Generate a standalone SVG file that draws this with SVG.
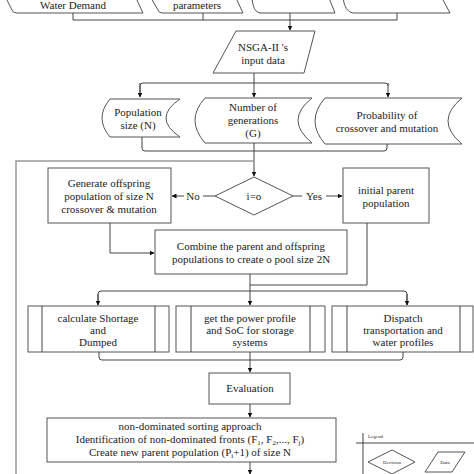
<svg xmlns="http://www.w3.org/2000/svg" width="474" height="474" viewBox="0 0 474 474">
<defs>
<marker id="ah" viewBox="0 0 10 10" refX="9" refY="5" markerWidth="5" markerHeight="5" orient="auto" markerUnits="userSpaceOnUse">
<path d="M0,0 L10,5 L0,10 Z" fill="#111"/>
</marker>
<style>
.s{fill:#fff;stroke:#555;stroke-width:1}
.c{fill:none;stroke:#444;stroke-width:1}
.t{font-family:"Liberation Serif","DejaVu Serif",serif;font-size:11px;fill:#222;text-anchor:middle}
.lg{font-family:"Liberation Serif",serif;font-size:5px;fill:#222}
</style>
</defs>
<rect width="474" height="474" fill="#fff"/>

<g id="top1"><path class="s" d="M6,-2 L12,10 Q13,13 17,13 L143,13 L136,-2"/><text class="t" x="73" y="9" font-size="10">Water Demand</text></g>
<g id="top2"><path class="s" d="M151,-2 L158,10 Q159,13 162,13 L243,13 L236,-2"/><text class="t" x="197" y="9" font-size="10">parameters</text></g>
<g id="top3"><path class="s" d="M252,-2 Q253,12 260,13 L335,13 L329,-2"/></g>
<g id="top4"><path class="s" d="M343,-2 Q345,12 353,13 L450,13 L442,-2"/></g>

<g id="nsga"><path class="s" d="M236,31 L315,31 L304,73 L213,73 Z"/><text class="t" x="263" y="51">NSGA-II 's</text><text class="t" x="263" y="64">input data</text></g>

<g id="popsize"><path class="s" d="M110,99 L180,99 Q152,118 180,137 L110,137 Q94,118 110,99 Z"/><text class="t" x="138" y="116">Population</text><text class="t" x="138" y="129">size (N)</text></g>
<g id="gens"><path class="s" d="M205,98 L312,98 Q284,120 312,143 L205,143 Q185,120 205,98 Z"/><text class="t" x="253" y="111">Number of</text><text class="t" x="253" y="124">generations</text><text class="t" x="253" y="137">(G)</text></g>
<g id="prob"><path class="s" d="M325,98 L462,98 Q434,121 462,144 L325,144 Q305,121 325,98 Z"/><text class="t" x="387" y="119">Probability of</text><text class="t" x="387" y="132">crossover and mutation</text></g>

<g id="decision"><path class="s" d="M254,177 L293,196 L254,215 L215,196 Z"/><text class="t" x="254" y="200">i=o</text></g>
<g id="generate"><rect class="s" x="48" y="168" width="123" height="55"/><text class="t" x="109" y="187">Generate offspring</text><text class="t" x="109" y="200">population of size N</text><text class="t" x="109" y="213">crossover &amp; mutation</text></g>
<g id="initial"><rect class="s" x="343" y="168" width="86" height="55"/><text class="t" x="386" y="194">initial parent</text><text class="t" x="386" y="207">population</text></g>
<g id="combine"><rect class="s" x="155" y="230" width="192" height="44"/><text class="t" x="251" y="250">Combine the parent and offspring</text><text class="t" x="251" y="263">populations to create o pool size 2N</text></g>

<g id="shortage"><rect class="s" x="28" y="306" width="141" height="46"/><path class="c" d="M42,306 V352 M155,306 V352"/><text class="t" x="98" y="322">calculate Shortage</text><text class="t" x="98" y="334">and</text><text class="t" x="98" y="346">Dumped</text></g>
<g id="power"><rect class="s" x="176" y="306" width="149" height="46"/><path class="c" d="M191,306 V352 M310,306 V352"/><text class="t" x="250" y="322">get the power profile</text><text class="t" x="250" y="334">and SoC for storage</text><text class="t" x="250" y="346">systems</text></g>
<g id="dispatch"><rect class="s" x="332" y="306" width="141" height="46"/><path class="c" d="M347,306 V352 M460,306 V352"/><text class="t" x="403" y="322">Dispatch</text><text class="t" x="403" y="334">transportation and</text><text class="t" x="403" y="346">water profiles</text></g>

<g id="evaluation"><rect class="s" x="209" y="373" width="81" height="31"/><text class="t" x="250" y="392">Evaluation</text></g>
<g id="sorting"><rect class="s" x="47" y="418" width="289" height="44"/><text class="t" x="190" y="430">non-dominated sorting approach</text><text class="t" x="190" y="443">Identification of non-dominated fronts (F<tspan font-size="7" dy="2">1</tspan><tspan dy="-2">, F</tspan><tspan font-size="7" dy="2">2</tspan><tspan dy="-2">,..., F</tspan><tspan font-size="7" dy="2">j</tspan><tspan dy="-2">)</tspan></text><text class="t" x="190" y="456">Create new parent population (P<tspan font-size="7" dy="2">i</tspan><tspan dy="-2">+1) of size N</tspan></text></g>

<g id="connectors">
<path class="c" d="M73,13 V20 H397 V13 M203,13 V20"/>
<path class="c" d="M290,13 V30" marker-end="url(#ah)"/>
<path class="c" d="M254,73 V83 M140,96 V86 Q140,83 143,83 H385 Q388,83 388,86"/>
<path class="c" d="M140,83 V97" marker-end="url(#ah)"/>
<path class="c" d="M254,83 V97" marker-end="url(#ah)"/>
<path class="c" d="M388,83 V97" marker-end="url(#ah)"/>
<path class="c" d="M142,137 V148 Q142,151 145,151 H384 Q387,151 387,148 V144 M254,143 V151"/>
<path class="c" d="M254,151 V176" marker-end="url(#ah)"/>
<path d="M16,474 V161 H254" fill="none" stroke="#999" stroke-width="1.5"/>
<path class="c" d="M215,196 H203 M184,196 H172" marker-end="url(#ah)"/>
<text class="t" x="193" y="200">No</text>
<path class="c" d="M293,196 H302 M326,196 H342" marker-end="url(#ah)"/>
<text class="t" x="314" y="200">Yes</text>
<path class="c" d="M110,223 V253 H154" marker-end="url(#ah)"/>
<path class="c" d="M367,223 V285 H250"/>
<path class="c" d="M250,274 V305" marker-end="url(#ah)"/>
<path class="c" d="M98,305 V294 Q98,291 101,291 H404 Q407,291 407,294 V305" />
<path class="c" d="M98,294 V305" marker-end="url(#ah)"/>
<path class="c" d="M407,294 V305" marker-end="url(#ah)"/>
<path class="c" d="M99,352 V357 Q99,360 102,360 H400 Q403,360 403,357 V352"/>
<path class="c" d="M250,352 V372" marker-end="url(#ah)"/>
<path class="c" d="M250,404 V417" marker-end="url(#ah)"/>
<path class="c" d="M250,462 V474" marker-end="url(#ah)"/>
</g>

<g id="legend">
<path class="c" d="M356,443 H474 M363,433 V474"/>
<text class="lg" x="368" y="438">Legend</text>
<path class="s" d="M392,450 L415,462 L392,474 L368,462 Z"/>
<text class="lg" x="392" y="464" text-anchor="middle">Decision</text>
<path class="s" d="M438,452 L465,452 L452,472 L425,472 Z"/>
<text class="lg" x="445" y="464" text-anchor="middle">Data</text>
</g>
</svg>
